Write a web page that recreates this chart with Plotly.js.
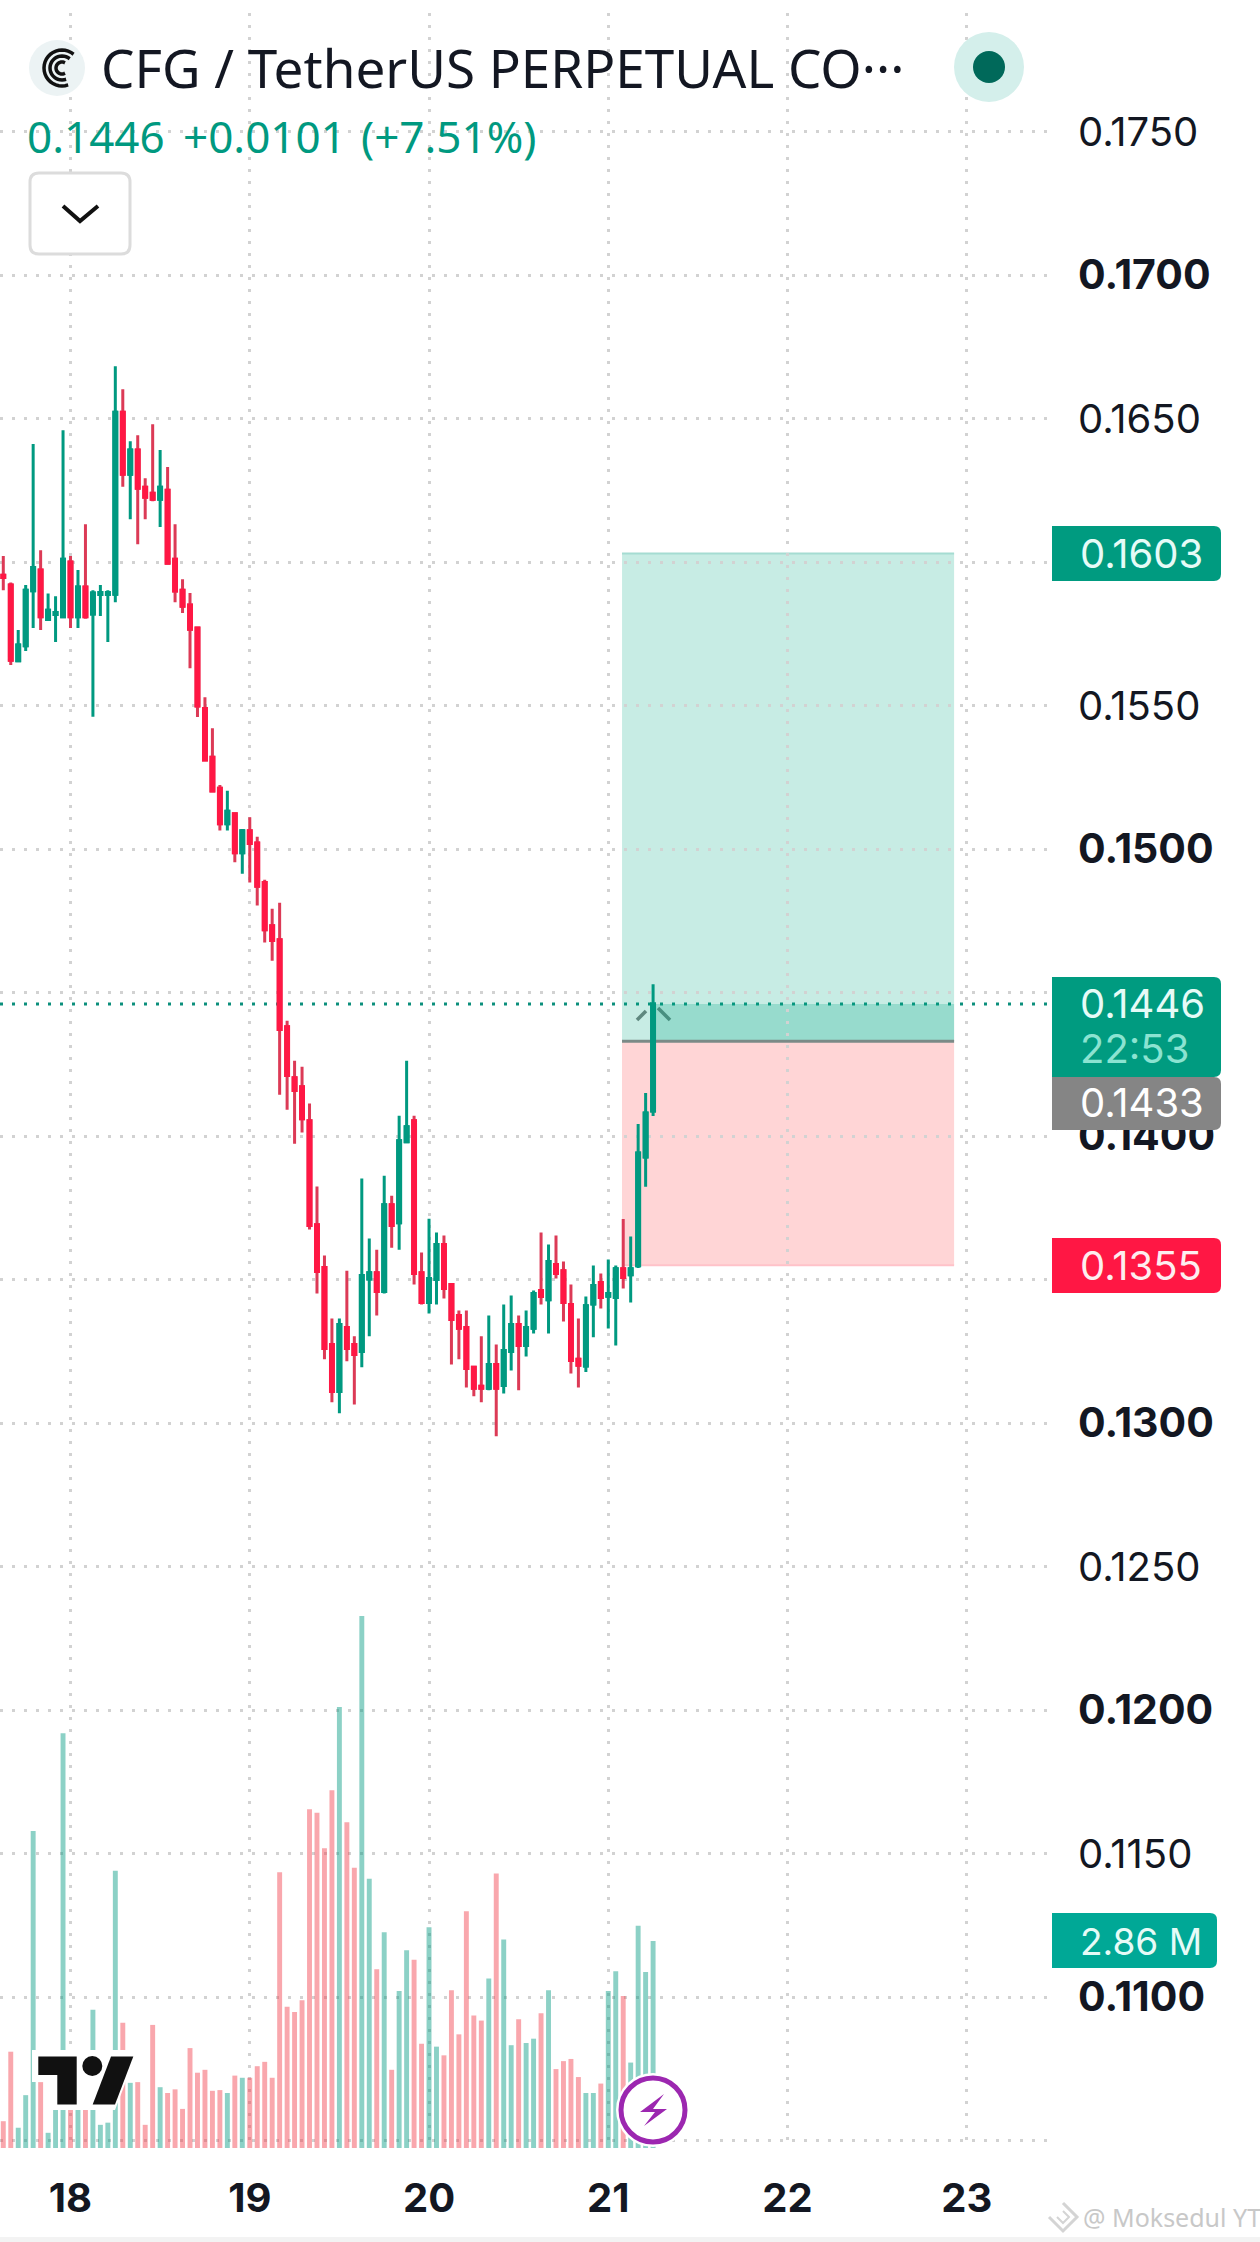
<!DOCTYPE html>
<html>
<head>
<meta charset="utf-8">
<script src="https://cdn.plot.ly/plotly-3.0.1.min.js"></script>
<style>
  html, body { margin: 0; padding: 0; background: #fff; }
  #chart { width: 1260px; height: 2242px; }
</style>
</head>
<body>
<div id="chart"></div>
<script>
// hourly candles (first candle is the 17th 15:00)
var opens = [
  .15954, .15920, .15656, .15708, .15900, .15972, .15800, .15817, .15809, .16000,
  .15809, .15913, .15819, .15887, .15887, .15888, .16522, .16306, .16390, .16261,
  .16240, .16219, .16250, .16010, .15902, .15850, .15770, .15490, .15320, .15212,
  .15088, .15123, .14987, .15064, .15021, .14883, .14733, .14684, .14381, .14203,
  .14172, .14053, .13691, .13542, .13274, .13110, .13333, .13274, .13249, .13502,
  .13524, .13458, .13761, .13698, .13980, .14053, .13524, .13420, .13500, .13622,
  .13483, .13375, .13333, .13194, .13128, .13121, .13204, .13131, .13249, .13343,
  .13270, .13330, .13462, .13430, .13552, .13531, .13413, .13222, .13199, .13415,
  .13490, .13442, .13437, .13538, .13517, .13548, .13927, .14087
];
var highs = [
  .16021, .15929, .15763, .15920, .16411, .16041, .15890, .15881, .16459, .16021,
  .15972, .16132, .15902, .15920, .15902, .16682, .16602, .16421, .16442, .16292,
  .16480, .16390, .16331, .16132, .15940, .15892, .15770, .15529, .15421, .15223,
  .15203, .15123, .15070, .15111, .15043, .14893, .14792, .14813, .14402, .14262,
  .14241, .14113, .13824, .13584, .13364, .13364, .13531, .13302, .13852, .13643,
  .13604, .13862, .13792, .14071, .14262, .14071, .13594, .13712, .13664, .13653,
  .13483, .13392, .13392, .13194, .13302, .13375, .13274, .13413, .13444, .13375,
  .13392, .13462, .13664, .13622, .13653, .13563, .13483, .13364, .13441, .13549,
  .13521, .13570, .13549, .13711, .13650, .14042, .14150, .14529
];
var lows = [
  .15902, .15641, .15652, .15690, .15770, .15763, .15798, .15721, .15809, .15770,
  .15770, .15802, .15461, .15812, .15721, .15860, .16262, .16149, .16062, .16149,
  .16212, .16122, .15996, .15860, .15822, .15630, .15460, .15310, .15202, .15065,
  .15065, .14954, .14914, .14883, .14803, .14674, .14611, .14144, .14092, .13973,
  .14012, .13674, .13451, .13222, .13072, .13034, .13215, .13065, .13194, .13302,
  .13375, .13451, .13611, .13604, .13980, .13483, .13413, .13382, .13413, .13434,
  .13204, .13222, .13124, .13093, .13072, .13114, .12954, .13103, .13183, .13114,
  .13232, .13312, .13413, .13312, .13504, .13354, .13173, .13124, .13178, .13299,
  .13399, .13329, .13270, .13469, .13420, .13540, .13823, .14070
];
var closes = [
  .15946, .15658, .15711, .15902, .15981, .15809, .15832, .15824, .16010, .15809,
  .15913, .15809, .15892, .15894, .15894, .16522, .16306, .16390, .16257, .16226,
  .16219, .16261, .15996, .15899, .15846, .15766, .15498, .15310, .15202, .15088,
  .15132, .14987, .15064, .15019, .14870, .14719, .14681, .14371, .14211, .14159,
  .14060, .13688, .13528, .13260, .13110, .13343, .13260, .13239, .13514, .13524,
  .13458, .13761, .13688, .13984, .14032, .13521, .13420, .13504, .13622, .13469,
  .13361, .13330, .13190, .13121, .13121, .13204, .13121, .13253, .13343, .13270,
  .13333, .13451, .13441, .13563, .13521, .13420, .13218, .13201, .13409, .13479,
  .13437, .13451, .13538, .13507, .13538, .13941, .14080, .14460
];
// volume in millions
var volumes = [
  0.37, 1.33, 0.28, 0.73, 4.38, 0.91, 0.21, 0.90, 5.73, 0.90,
  0.90, 0.90, 1.91, 0.32, 0.35, 3.83, 1.73, 0.90, 0.91, 0.32,
  1.70, 0.84, 0.76, 0.81, 0.54, 1.38, 1.04, 1.08, 0.79, 0.80,
  0.76, 1.00, 0.97, 0.97, 1.13, 1.19, 0.97, 3.81, 1.95, 1.88,
  2.04, 4.68, 4.63, 4.14, 4.94, 6.09, 4.50, 3.87, 7.35, 3.72,
  2.47, 2.98, 1.08, 2.17, 2.73, 2.60, 1.44, 3.05, 1.40, 1.28,
  2.18, 1.57, 3.27, 1.83, 1.76, 2.34, 3.79, 2.88, 1.42, 1.78,
  1.45, 1.51, 1.86, 2.18, 1.09, 1.20, 1.23, 0.98, 0.76, 0.76,
  0.89, 2.17, 2.44, 2.10, 1.18, 3.07, 2.43, 2.86
];

var dayTicks = [9, 33, 57, 81, 105, 129];
var dayLabels = ['18', '19', '20', '21', '22', '23'];
var priceTicks = [.175, .17, .165, .16, .155, .15, .145, .14, .135, .13, .125, .12, .115, .11, .105];
var priceNames = ['0.1750', '0.1700', '0.1650', '', '0.1550', '0.1500', '', '0.1400',
  '', '0.1300', '0.1250', '0.1200', '0.1150', '0.1100', ''];
var boldPrices = ['0.1700', '0.1500', '0.1400', '0.1300', '0.1200', '0.1100'];

var lastPrice = .1446;
var targetPrice = .1603;
var entryPrice = .1433;
var stopPrice = .1355;
var toolStart = 82.84;
var toolEnd = 127.3;
var lastCandle = 87;

var hours = opens.map(function (v, i) { return i; });
var bodyHigh = opens.map(function (v, i) { return Math.max(v, closes[i]); });
var bodyLow = opens.map(function (v, i) { return Math.min(v, closes[i]); });
var volColors = opens.map(function (v, i) {
  return closes[i] >= v ? 'rgba(0,153,128,0.45)' : 'rgba(242,54,69,0.44)';
});
var priceLabels = priceNames.map(function (t) {
  return boldPrices.indexOf(t) >= 0 ? '<span style="font-size:41px"><b>' + t + '</b></span>' : t;
});

var GREEN = '#009980';
var RED = '#ff1744';
var WICK_RED = '#dc3a56';
var FONT = '"Noto Sans", sans-serif';
var NUM_FONT = 'Inter, sans-serif';

// page pixels -> paper fractions (plot area is 0..1050 x 13..2148)
function px(x) { return x / 1050; }
function py(y) { return 1 - (y - 13) / 2135; }

function polygon(points, fill, line, width) {
  var d = points.map(function (p, i) {
    return (i ? 'L' : 'M') + px(p[0]) + ',' + py(p[1]);
  }).join(' ');
  return {
    type: 'path', xref: 'paper', yref: 'paper', path: fill ? d + ' Z' : d,
    fillcolor: fill || 'rgba(0,0,0,0)',
    line: { color: line || 'rgba(0,0,0,0)', width: width || 0 }
  };
}

function disc(cx, cy, r, fill, line, width) {
  return {
    type: 'circle', xref: 'paper', yref: 'paper',
    x0: px(cx - r), x1: px(cx + r), y0: py(cy + r), y1: py(cy - r),
    fillcolor: fill, line: { color: line || 'rgba(0,0,0,0)', width: width || 0 }
  };
}

// only the right side of price tags is rounded
function tag(x0, x1, y0, y1, fill) {
  var r = 7;
  var d = 'M' + px(x0) + ',' + py(y0) + ' L' + px(x1 - r) + ',' + py(y0) +
    ' Q' + px(x1) + ',' + py(y0) + ' ' + px(x1) + ',' + py(y0 + r) +
    ' L' + px(x1) + ',' + py(y1 - r) +
    ' Q' + px(x1) + ',' + py(y1) + ' ' + px(x1 - r) + ',' + py(y1) +
    ' L' + px(x0) + ',' + py(y1) + ' Z';
  return { type: 'path', xref: 'paper', yref: 'paper', path: d, fillcolor: fill, line: { width: 0 } };
}

function roundBox(x0, x1, y0, y1, r, line, width) {
  var d = 'M' + px(x0 + r) + ',' + py(y0) + ' L' + px(x1 - r) + ',' + py(y0) +
    ' Q' + px(x1) + ',' + py(y0) + ' ' + px(x1) + ',' + py(y0 + r) +
    ' L' + px(x1) + ',' + py(y1 - r) +
    ' Q' + px(x1) + ',' + py(y1) + ' ' + px(x1 - r) + ',' + py(y1) +
    ' L' + px(x0 + r) + ',' + py(y1) +
    ' Q' + px(x0) + ',' + py(y1) + ' ' + px(x0) + ',' + py(y1 - r) +
    ' L' + px(x0) + ',' + py(y0 + r) +
    ' Q' + px(x0) + ',' + py(y0) + ' ' + px(x0 + r) + ',' + py(y0) + ' Z';
  return { type: 'path', xref: 'paper', yref: 'paper', path: d, fillcolor: '#fff', line: { color: line, width: width } };
}

function arc(cx, cy, r, a0, a1) {
  var pts = [];
  for (var a = a0; a <= a1; a += 10) {
    pts.push([cx + r * Math.cos(a * Math.PI / 180), cy - r * Math.sin(a * Math.PI / 180)]);
  }
  return polygon(pts, null, '#111', 3.5);
}

function label(text, x, y, size, color, family) {
  return {
    xref: 'paper', yref: 'paper', x: px(x), y: py(y), text: text,
    showarrow: false, xanchor: 'left', yanchor: 'middle', borderpad: 0,
    font: { family: family || NUM_FONT, size: size, color: color }
  };
}

var volumeTrace = {
  type: 'bar', x: hours, y: volumes, yaxis: 'y', width: 0.66,
  marker: { color: volColors, line: { width: 0 } }, hoverinfo: 'skip'
};
var wickTrace = {
  type: 'candlestick', x: hours, open: opens, high: highs, low: lows, close: closes, yaxis: 'y2',
  whiskerwidth: 0,
  increasing: { line: { color: GREEN, width: 3 }, fillcolor: GREEN },
  decreasing: { line: { color: WICK_RED, width: 3 }, fillcolor: RED },
  hoverinfo: 'skip'
};
var bodyTrace = {
  type: 'candlestick', x: hours, open: opens, high: bodyHigh, low: bodyLow, close: closes, yaxis: 'y2',
  whiskerwidth: 0,
  increasing: { line: { color: GREEN, width: 3 }, fillcolor: GREEN },
  decreasing: { line: { color: RED, width: 3 }, fillcolor: RED },
  hoverinfo: 'skip'
};

var shapes = [
  // long position tool
  { type: 'rect', xref: 'x', yref: 'y2', x0: toolStart, x1: toolEnd, y0: entryPrice, y1: targetPrice, layer: 'below',
    fillcolor: 'rgba(0,169,132,0.22)', line: { width: 0 } },
  { type: 'rect', xref: 'x', yref: 'y2', x0: toolStart, x1: toolEnd, y0: stopPrice, y1: entryPrice, layer: 'below',
    fillcolor: 'rgba(255,23,30,0.18)', line: { width: 0 } },
  { type: 'rect', xref: 'x', yref: 'y2', x0: lastCandle, x1: toolEnd, y0: entryPrice, y1: lastPrice, layer: 'below',
    fillcolor: 'rgba(0,169,132,0.24)', line: { width: 0 } },
  { type: 'line', xref: 'x', yref: 'y2', x0: toolStart, x1: toolEnd, y0: targetPrice, y1: targetPrice, layer: 'below',
    line: { color: '#a5dcd2', width: 2 } },
  { type: 'line', xref: 'x', yref: 'y2', x0: toolStart, x1: toolEnd, y0: stopPrice, y1: stopPrice, layer: 'below',
    line: { color: '#ffc2c9', width: 2 } },
  { type: 'line', xref: 'x', yref: 'y2', x0: toolStart, x1: toolEnd, y0: entryPrice, y1: entryPrice, layer: 'below',
    line: { color: '#7b8a87', width: 3 } },
  { type: 'line', xref: 'paper', yref: 'y2', x0: 0, x1: 1, y0: lastPrice, y1: lastPrice, layer: 'below',
    line: { color: '#0b8f7c', width: 3, dash: '3px,9px' } },
  // grey arrow marks either side of the last candle
  Object.assign(polygon([[637, 1020], [646, 1011]], null, '#7a7f7e', 3.5), { layer: 'below' }),
  Object.assign(polygon([[658, 1008], [670, 1020]], null, '#7a7f7e', 3.5), { layer: 'below' }),

  // header
  disc(57, 68, 28, '#ecf3f4'),
  arc(62, 68, 6, 60, 300), arc(62, 68, 12, 50, 290), arc(62, 68, 18, 50, 290),
  disc(989, 67, 35, '#d4efeb'),
  disc(989, 67, 16, '#00695a'),
  roundBox(30, 130, 173, 254, 9, '#dcdcdc', 3),
  polygon([[63, 206], [80, 221], [98, 206]], null, '#111', 4),

  // tradingview mark
  polygon([[32, 2050], [138, 2050], [115, 2110], [53, 2110], [53, 2082], [32, 2082]], '#fff'),
  polygon([[38.3, 2056.6], [76.7, 2056.6], [76.7, 2104.5], [57.3, 2104.5], [57.3, 2075], [38.3, 2075]], '#111'),
  disc(92.3, 2066, 10, '#111'),
  polygon([[111, 2056.6], [133.3, 2056.6], [115, 2104.5], [92.7, 2104.5]], '#111'),

  // replay button
  disc(653, 2110, 37, '#fff'),
  disc(653, 2110, 32, '#fff', '#9c27b0', 5),
  polygon([[664, 2094], [640, 2112], [655, 2112], [644, 2126], [667, 2109], [653, 2109]], '#9c27b0'),

  // price tags
  tag(1052, 1221, 526, 581, '#009b80'),
  tag(1052, 1221, 977, 1077, '#009b80'),
  tag(1052, 1221, 1077, 1130, '#858585'),
  tag(1052, 1221, 1238, 1293, RED),
  tag(1052, 1217, 1913, 1968, '#00a896'),

  // watermark + page edge
  polygon([[1063, 2203], [1077, 2217], [1063, 2231], [1049, 2217]], null, '#d4d4d4', 3),
  polygon([[1063, 2211], [1069, 2217], [1063, 2223], [1057, 2217]], null, '#d4d4d4', 2),
  polygon([[0, 2237], [1260, 2237], [1260, 2242], [0, 2242]], '#f3f3f3')
];

var annotations = [
  label('CFG / TetherUS PERPETUAL CO\u00b7\u00b7\u00b7', 100, 67, 53, '#131722', FONT),
  label('0.1446', 26, 136, 44, GREEN, FONT),
  label('+0.0101', 182, 136, 44, GREEN, FONT),
  label('(+7.51%)', 360, 136, 44, GREEN, FONT),
  label('0.1603', 1079, 553, 40, '#e6fbf7'),
  label('0.1446', 1079, 1004, 40, '#e6fbf7'),
  label('22:53', 1079, 1048, 40, '#8be3d1'),
  label('0.1433', 1079, 1102, 40, '#fff'),
  label('0.1355', 1079, 1265, 40, '#fdeef0'),
  label('2.86 M', 1079, 1941, 37, '#e6fbf7'),
  label('@ Moksedul YT', 1082, 2217, 25, '#c8c8c8', FONT)
];

var layout = {
  width: 1260,
  height: 2242,
  margin: { l: 0, r: 210, t: 13, b: 94 },
  paper_bgcolor: '#fff',
  plot_bgcolor: '#fff',
  showlegend: false,
  boxgap: 0.45,
  xaxis: {
    range: [-0.44, 140.14],
    rangeslider: { visible: false },
    tickmode: 'array', tickvals: dayTicks, ticktext: dayLabels,
    tickfont: { family: NUM_FONT, size: 40, color: '#131722', weight: 700 },
    ticklen: 0,
    ticklabelstandoff: 23,
    showline: false,
    zeroline: false,
    gridcolor: '#d2d2d2', gridwidth: 3, griddash: '3px,9px'
  },
  yaxis: {
    range: [0, 29.49],
    visible: false,
    showgrid: false,
    zeroline: false
  },
  yaxis2: {
    overlaying: 'y',
    side: 'right',
    range: [.10474, .17913],
    tickmode: 'array', tickvals: priceTicks, ticktext: priceLabels,
    tickfont: { family: NUM_FONT, size: 40, color: '#131722' },
    ticklen: 0,
    ticklabelstandoff: 27,
    showline: false,
    zeroline: false,
    showgrid: true,
    gridcolor: '#d2d2d2', gridwidth: 3, griddash: '3px,9px'
  },
  shapes: shapes,
  annotations: annotations
};

Plotly.newPlot('chart', [volumeTrace, wickTrace, bodyTrace], layout, { displayModeBar: false, staticPlot: true });
</script>
</body>
</html>
